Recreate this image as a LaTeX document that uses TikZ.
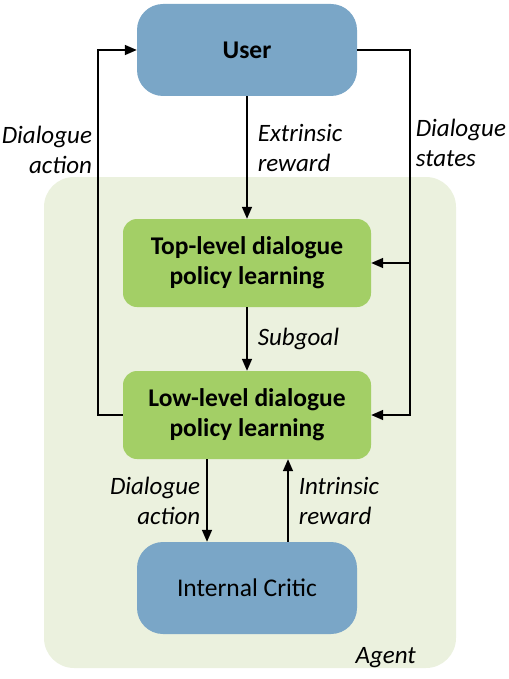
\documentclass[tikz,border=0pt]{standalone}
\usepackage{fontspec}
\setmainfont{Carlito}
\usetikzlibrary{arrows.meta}
\definecolor{userblue}{RGB}{122,166,199}
\definecolor{boxgreen}{RGB}{163,207,102}
\definecolor{agentbg}{RGB}{235,241,222}
\tikzset{
  blockbox/.style={fill=boxgreen, rounded corners=14pt, minimum width=248pt, minimum height=88pt, align=center, font=\fontsize{25.5}{30}\selectfont\bfseries},
  envbox/.style={fill=userblue, rounded corners=26pt, minimum width=220pt, minimum height=92pt, align=center, font=\fontsize{25.5}{30}\selectfont},
  lbl/.style={font=\fontsize{25}{30}\selectfont\itshape, align=left, inner sep=2pt},
  arr/.style={-{Triangle[length=12pt,width=10pt]}, line width=1.6pt}
}
\begin{document}
\begin{tikzpicture}[x=1pt, y=-1pt]
        \useasboundingbox (0,0) rectangle (508,679);
        % Agent area
        \fill[agentbg, rounded corners=30pt] (44,177) rectangle (456,668);
        \node[lbl, anchor=base east] (agent) at (418,663) {Agent};

        % Boxes
        \node[envbox, font=\fontsize{25.5}{30}\selectfont\bfseries] (user) at (247,50) {User};
        \node[blockbox] (top) at (247,263) {Top-level dialogue\\policy learning};
        \node[blockbox] (low) at (247,415) {Low-level dialogue\\policy learning};
        \node[envbox] (critic) at (247,588) {Internal Critic};

        % Vertical flow
        \draw[arr] (user) -- node[lbl, right=8pt, pos=0.42] {Extrinsic\\reward} (top);
        \draw[arr] (top) -- node[lbl, right=8pt] {Subgoal} (low);
        \draw[arr] ([xshift=-40pt]low.south) -- node[lbl, left=4pt, align=right] {Dialogue\\action} ([xshift=-40pt]critic.north);
        \draw[arr] ([xshift=41pt]critic.north) -- node[lbl, right=8pt] {Intrinsic\\reward} ([xshift=41pt]low.south);

        % Side loops
        \coordinate (rgt) at (410,415);
        \draw[arr] (low.west) -- ++(-25,0) coordinate (lft) |- node[lbl, pos=0.363, left=3pt, align=right] {Dialogue\\action} (user.west);
        \draw[arr] (user.east) -| node[lbl, pos=0.627, right=3pt] {Dialogue\\states} (rgt) -- (low.east);
        \draw[arr] (rgt |- top.east) -- (top.east);
    \end{tikzpicture}
\end{document}
